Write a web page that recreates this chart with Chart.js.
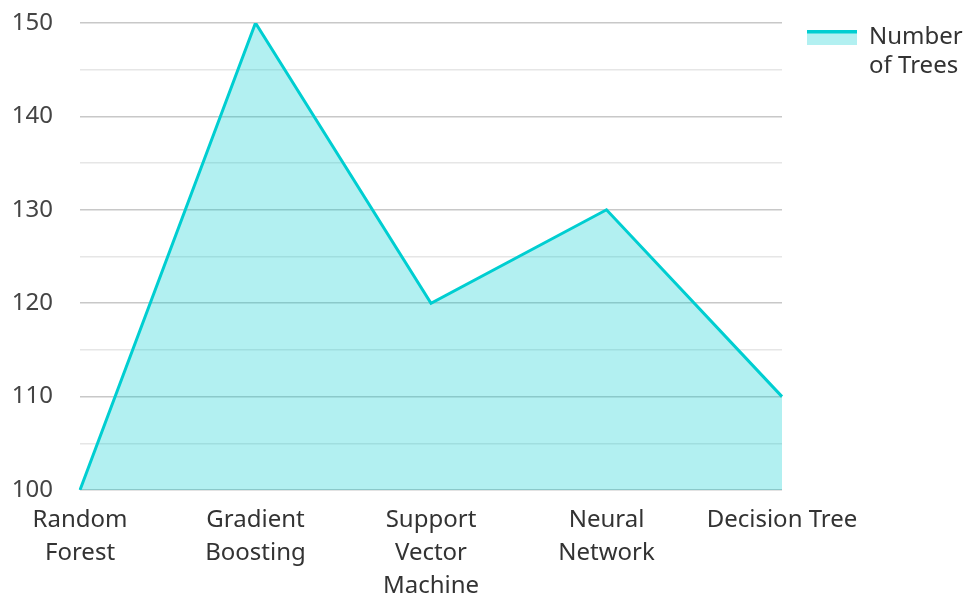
<!DOCTYPE html>
<html>
<head>
<meta charset="utf-8">
<script src="https://cdn.jsdelivr.net/npm/chart.js"></script>
<style>
  html, body { margin: 0; padding: 0; background: #fff; }
  #wrap { width: 968px; height: 594px; }
</style>
</head>
<body>
<div id="wrap"><canvas id="chart"></canvas></div>
<script>
const categories = [
    ["Random", "Forest"],
    ["Gradient", "Boosting"],
    ["Support", "Vector", "Machine"],
    ["Neural", "Network"],
    "Decision Tree"
];
const seriesLabel = ["Number", "of Trees"];
const treeCounts = [100, 150, 120, 130, 110];
const yMin = 100, yMax = 150, yStep = 5;

const lineColor = "#00CED1";
const fillColor = "rgba(0, 206, 209, 0.3)";
const fontFamily = "'Noto Sans', sans-serif";

// legend swatch: thick line on top of a light fill
const swatch = document.createElement("canvas");
swatch.width = 50;
swatch.height = 15;
(() => {
    const c = swatch.getContext("2d");
    c.fillStyle = fillColor;
    c.fillRect(0, 0, 50, 15);
    c.fillStyle = lineColor;
    c.fillRect(0, 0, 50, 4);
})();

new Chart(document.getElementById("chart").getContext("2d"), {
    type: "line",
    data: {
        labels: categories,
        datasets: [{
            label: seriesLabel,
            data: treeCounts,
            borderColor: lineColor,
            backgroundColor: fillColor,
            borderWidth: 3,
            fill: "origin",
            tension: 0,
            pointRadius: 0,
            pointHoverRadius: 0,
            pointStyle: swatch
        }]
    },
    options: {
        responsive: true,
        maintainAspectRatio: false,
        animation: false,
        layout: {
            padding: { top: 0, left: 12, right: 0, bottom: 0 }
        },
        scales: {
            x: {
                offset: false,
                grid: { display: false },
                border: { display: false },
                afterFit: (scale) => { scale.height = 104; },
                ticks: {
                    color: "#333",
                    padding: 6,
                    maxRotation: 0,
                    autoSkip: false,
                    font: { family: fontFamily, size: 24, lineHeight: 1.375 }
                }
            },
            y: {
                min: yMin,
                max: yMax,
                border: { display: false },
                afterFit: (scale) => {
                    scale.width = 68;
                    scale.paddingTop = 23;
                    scale.paddingBottom = 0;
                },
                grid: {
                    drawTicks: false,
                    lineWidth: 1.5,
                    color: (ctx) => (ctx.tick && ctx.tick.value % 10 === 0) ? "#c8c8c8" : "#e6e6e6"
                },
                ticks: {
                    stepSize: yStep,
                    autoSkip: false,
                    color: "#444",
                    padding: 27,
                    font: { family: fontFamily, size: 24 },
                    callback: (v) => v % 10 === 0 ? v : ""
                }
            }
        },
        plugins: {
            legend: {
                position: "right",
                align: "start",
                maxWidth: 186,
                labels: {
                    usePointStyle: true,
                    pointStyleWidth: 50,
                    boxHeight: 15,
                    padding: 25,
                    color: "#333",
                    font: { family: fontFamily, size: 24, lineHeight: 1.2 }
                }
            },
            tooltip: { enabled: false }
        }
    }
});
</script>
</body>
</html>
